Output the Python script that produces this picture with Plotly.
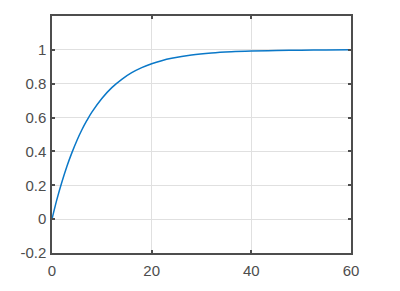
import plotly.graph_objects as go

t = [0, 1, 2, 3, 4, 5, 6, 7, 8, 10, 12, 14, 16, 18, 20, 22, 24, 28, 32, 36, 40, 45, 50, 55, 60]
y = [0, 0.118, 0.221, 0.313, 0.393, 0.465, 0.528, 0.583, 0.632, 0.713, 0.777, 0.826, 0.865, 0.895, 0.918, 0.936, 0.950, 0.970, 0.982, 0.989, 0.993, 0.996, 0.998, 0.999, 1.0]

xticks = [0, 20, 40, 60]
yticks = [-0.2, 0, 0.2, 0.4, 0.6, 0.8, 1]
ylabels = ["-0.2", "0", "0.2", "0.4", "0.6", "0.8", "1"]

fig = go.Figure(go.Scatter(x=t, y=y, mode="lines", line=dict(color="#0a78c8", width=1.5, shape="spline")))

axis_common = dict(
    showline=True, linecolor="#4d4d4d", linewidth=1.5, mirror="ticks",
    ticks="inside", ticklen=3, tickcolor="#4d4d4d", tickwidth=1.5,
    showgrid=True, gridcolor="#e0e0e0", gridwidth=1, zeroline=False,
    tickfont=dict(family="Liberation Sans, Arial", size=15, color="#4d4d4d"),
)
fig.update_xaxes(range=[0, 60], tickvals=xticks, ticklabelstandoff=3, **axis_common)
fig.update_yaxes(range=[-0.2, 1.2], tickvals=yticks, ticktext=ylabels, ticklabelstandoff=1, **axis_common)
fig.update_layout(
    width=400, height=291, margin=dict(l=52, r=49, t=16, b=38),
    plot_bgcolor="white", paper_bgcolor="white", showlegend=False,
)
fig.write_html("out.html")
